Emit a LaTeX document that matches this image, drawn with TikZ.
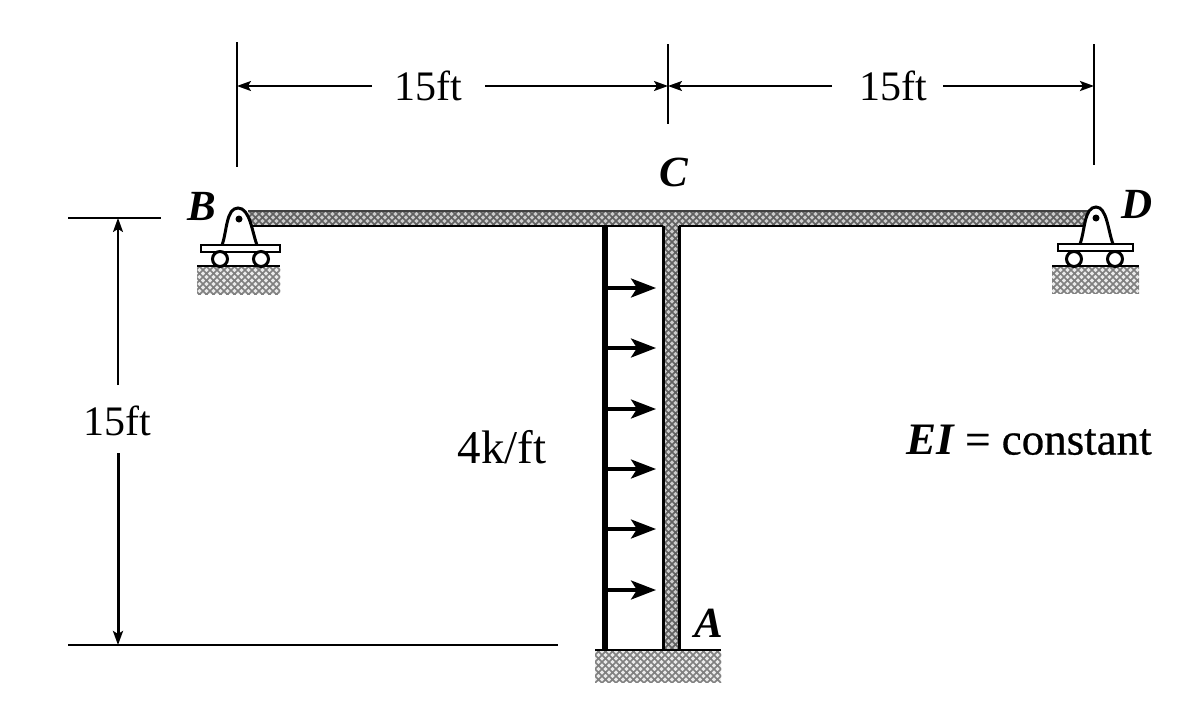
\documentclass[tikz,border=0pt]{standalone}
\usepackage{fontspec}
\setmainfont{Liberation Serif}
\newfontfamily\heavyserif[FakeBold=0.6]{Liberation Serif}
\usetikzlibrary{arrows.meta,patterns}
\pgfdeclarepatternformonly{weave}{\pgfqpoint{-1pt}{-1pt}}{\pgfqpoint{8pt}{8pt}}{\pgfqpoint{7pt}{7pt}}{
  \pgfsetlinewidth{1.7pt}
  \pgfpathmoveto{\pgfqpoint{0pt}{0pt}}\pgfpathlineto{\pgfqpoint{7pt}{7pt}}
  \pgfpathmoveto{\pgfqpoint{0pt}{7pt}}\pgfpathlineto{\pgfqpoint{7pt}{0pt}}
  \pgfusepath{stroke}
}
\definecolor{hatchbase}{gray}{0.80}
\definecolor{groundbase}{gray}{0.92}
\tikzset{
  dimline/.style={draw=black,line width=1.8pt},
  dimarrow/.style={dimline,-{Stealth[length=14pt,width=10pt,inset=3pt]}},
  hatchfill/.style={fill=hatchbase,postaction={pattern=weave,pattern color=black!62}},
  groundfill/.style={fill=groundbase,postaction={pattern=weave,pattern color=black!50}},
  thickline/.style={draw=black,line width=3pt},
  loadarrow/.style={draw=black,line width=3.4pt,-{Stealth[length=25pt,width=19pt,inset=6pt]}},
  lbl/.style={font=\fontsize{42}{48}\selectfont,inner sep=0pt},
  pointlbl/.style={font=\fontsize{43}{48}\selectfont\bfseries\itshape,inner sep=0pt},
  pinstyle/.style={draw=black,line width=3pt,fill=white},
  platform/.style={draw=black,line width=2.6pt,fill=white},
  wheel/.style={draw=black,line width=3pt,fill=white,circle,minimum size=15pt,inner sep=0pt}
}
\begin{document}
\begin{tikzpicture}[x=1pt,y=-1pt]
\useasboundingbox (0,0) rectangle (1193,704);
\fill[white] (0,0) rectangle (1193,704);
% grounds
\fill[groundfill] (197,267) rectangle (280,294);
\fill[groundfill] (1052,267) rectangle (1139,293);
\fill[groundfill] (595,651) rectangle (721,682);
% beam and column
\fill[hatchfill] (248,211) rectangle (1090,226);
\fill[hatchfill] (663,226) rectangle (679,650);
\coordinate (bl) at (248,211); \coordinate (br) at (1088,211);
\coordinate (bl2) at (248,226); \coordinate (cl) at (663,226);
\coordinate (cr) at (679,226); \coordinate (br2) at (1088,226);
\coordinate (al) at (663,650); \coordinate (ar) at (679,650);
\draw[draw=black!75,line width=1.6pt] (bl) -- (br);
\draw[draw=black,line width=2.4pt] (bl2) -- (cl) (cr) -- (br2);
\draw[thickline] (cl) -- (al);
\draw[thickline] (cr) -- (ar);
% load
\coordinate (lt) at (605,226); \coordinate (lb) at (605,650);
\draw[draw=black,line width=5.5pt] (lt) -- (lb);
\foreach \yy/\nm in {288/a,348/b,409/c,469/d,529/e,590/f}{
  \coordinate (s\nm) at (605,\yy);
  \coordinate (t\nm) at (656,\yy);
  \draw[loadarrow] (s\nm) -- (t\nm);
}
% support B
\draw[pinstyle] (222,245) .. controls (227,232) and (226,208) .. (238,208) .. controls (250,208) and (252,232) .. (257,245);
\fill[black] (239,219) circle (3.5pt);
\draw[platform] (201,245) rectangle (280,252);
\node[wheel] (wb1) at (220,259) {};
\node[wheel] (wb2) at (261,259) {};
\coordinate (gb1) at (197,266); \coordinate (gb2) at (280,266);
\draw[draw=black,line width=2.4pt] (gb1) -- (gb2);
% support D
\draw[pinstyle] (1080,244) .. controls (1085,231) and (1084,207) .. (1096,207) .. controls (1107,207) and (1108,231) .. (1113,244);
\fill[black] (1096,218) circle (3.5pt);
\draw[platform] (1058,244) rectangle (1133,251);
\node[wheel] (wd1) at (1074,259) {};
\node[wheel] (wd2) at (1115,259) {};
\coordinate (gd1) at (1052,266); \coordinate (gd2) at (1139,266);
\draw[draw=black,line width=2.4pt] (gd1) -- (gd2);
% ground A
\coordinate (ga1) at (595,650); \coordinate (ga2) at (721,650);
\draw[draw=black,line width=2.4pt] (ga1) -- (ga2);
% extension lines
\coordinate (e1a) at (237,42); \coordinate (e1b) at (237,167);
\coordinate (e2a) at (668,44); \coordinate (e2b) at (668,124);
\coordinate (e3a) at (1094,44); \coordinate (e3b) at (1094,165);
\draw[dimline] (e1a) -- (e1b) (e2a) -- (e2b) (e3a) -- (e3b);
\coordinate (h1a) at (68,218); \coordinate (h1b) at (161,218);
\coordinate (h2a) at (68,645); \coordinate (h2b) at (558,645);
\draw[dimline] (h1a) -- (h1b) (h2a) -- (h2b);
% dimension text
\node[lbl] (d1) at (428.5,86) {15ft};
\node[lbl] (d2) at (893.5,86) {15ft};
\node[lbl] (d3) at (117.5,421) {15ft};
\node[font=\fontsize{47}{52}\selectfont,inner sep=0pt] (load) at (502,447) {4k/ft};
\node[font=\fontsize{45}{50}\selectfont\heavyserif,inner sep=0pt] (ei) at (1029,440) {{\fontspec{Liberation Serif}\bfseries\itshape EI} = constant};
% dimension arrows
\draw[dimarrow] (372,86) -- (e1a |- d1);
\draw[dimarrow] (485,86) -- (e2a |- d1);
\draw[dimarrow] (832,86) -- (e2a |- d2);
\draw[dimarrow,line width=2.4pt] (943,86) -- (e3a |- d2);
\draw[dimarrow] (118,385) -- (118,218);
\draw[dimarrow,line width=3pt] (118,453) -- (118,645);
% point labels
\node[pointlbl] (B) at (202,206) {B};
\node[pointlbl] (C) at (674,172) {C};
\node[pointlbl] (D) at (1137,204) {D};
\node[pointlbl] (A) at (709,623) {A};
\end{tikzpicture}
\end{document}
